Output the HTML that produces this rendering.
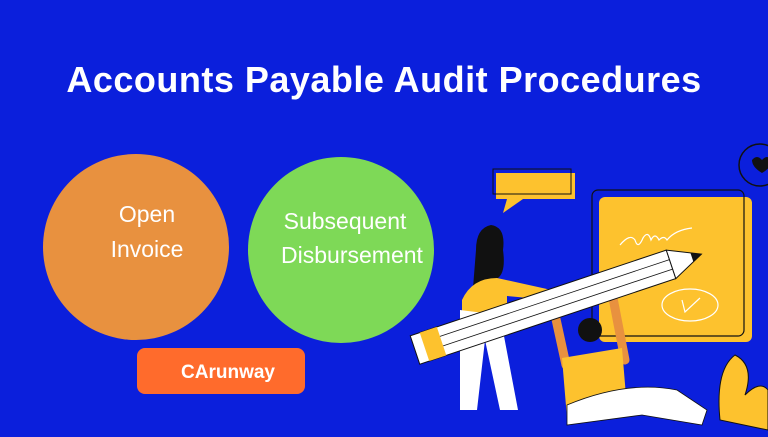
<!DOCTYPE html>
<html><head><style>
body{margin:0;width:768px;height:432px;overflow:hidden;background:#0b1fdc;font-family:"Liberation Sans",sans-serif}
</style></head><body>
<svg width="768" height="432" viewBox="0 0 768 432" xmlns="http://www.w3.org/2000/svg">
<rect width="768" height="432" fill="#0b1fdc"/>
<text x="384" y="92" text-anchor="middle" fill="#fff" font-family="Liberation Sans, sans-serif" font-weight="bold" font-size="36" letter-spacing="0.5">Accounts Payable Audit Procedures</text>
<circle cx="136" cy="247" r="93" fill="#e8913f"/>
<circle cx="341" cy="250" r="93" fill="#7ed957"/>
<g fill="#fff" font-family="Liberation Sans, sans-serif" font-size="23" text-anchor="middle">
<text x="147" y="222">Open</text>
<text x="147" y="257">Invoice</text>
<text x="345" y="229">Subsequent</text>
<text x="352" y="263">Disbursement</text>
</g>
<rect x="137" y="348" width="168" height="46" rx="8" fill="#ff6b2c"/>
<text x="228" y="378" text-anchor="middle" fill="#fff" font-family="Liberation Sans, sans-serif" font-weight="bold" font-size="19">CArunway</text>
<circle cx="760" cy="165" r="21" fill="none" stroke="#111" stroke-width="1.5"/>
<path d="M752 160 q5-6 10 0 q5-6 10 0 q0 7-10 13 q-10-6-10-13z" fill="#111"/>
<rect x="496" y="173" width="79" height="26" fill="#fdc22e"/>
<path d="M507 199 l-4 14 l20-14z" fill="#fdc22e"/>
<rect x="493" y="169" width="78" height="25" fill="none" stroke="#111" stroke-width="1"/>
<rect x="599" y="197" width="153" height="145" rx="6" fill="#fdc22e"/>
<rect x="592" y="190" width="152" height="146" rx="6" fill="none" stroke="#111" stroke-width="1.2"/>
<path d="M620 245 q10-12 15-5 q3 10 8-2 q5-8 8 2 q4-8 8 0 q5-5 8 0 q8-10 25-12" fill="none" stroke="#fff" stroke-width="1.2"/>
<ellipse cx="690" cy="305" rx="28" ry="16" fill="none" stroke="#fff" stroke-width="1.2"/>
<path d="M682 300 l3 12 l15-14" fill="none" stroke="#fff" stroke-width="1.2"/>
<path d="M720 420 q-5-50 15-65 q20 10 10 40 q15-15 23-5 v40z" fill="#fdc22e" stroke="#111" stroke-width="1"/>
<path d="M566 365 l-12 -55" stroke="#e8913f" stroke-width="9" stroke-linecap="round"/>
<path d="M625 360 l-12 -62" stroke="#e8913f" stroke-width="9" stroke-linecap="round"/>
<path d="M562 358 l60-10 l5 60 l-60 10z" fill="#fdc22e"/>
<path d="M567 405 q60-25 110-15 l30 20 l-5 15 l-60-10 l-75 10z" fill="#fff" stroke="#111" stroke-width="0.8"/>
<circle cx="590" cy="330" r="12" fill="#111"/>
<path d="M476 250 q0-22 15-25 q15 2 12 25 q3 22-5 28 l-25 10z" fill="#111"/>
<path d="M462 300 q10-22 35-22 l68 15 l-3 8 l-55-5 l0 20 l-10 10 l-35-5z" fill="#fdc22e"/>
<path d="M460 310 l40 5 l18 95 l-18 0 l-15-70 l-8 70 l-17 0z" fill="#fff"/>
<g transform="rotate(-18.5 415 350)">
<rect x="415" y="335" width="270" height="30" fill="#fff" stroke="#111" stroke-width="1"/>
<rect x="425" y="335" width="18" height="30" fill="#fdc22e"/>
<line x1="443" y1="345" x2="685" y2="345" stroke="#111" stroke-width="0.8"/>
<line x1="443" y1="355" x2="685" y2="355" stroke="#111" stroke-width="0.8"/>
<path d="M685 335 l32 15 l-32 15z" fill="#fff" stroke="#111" stroke-width="1"/>
<path d="M707 345 l10 5 l-10 5z" fill="#111"/>
</g>
</svg>
</body></html>
